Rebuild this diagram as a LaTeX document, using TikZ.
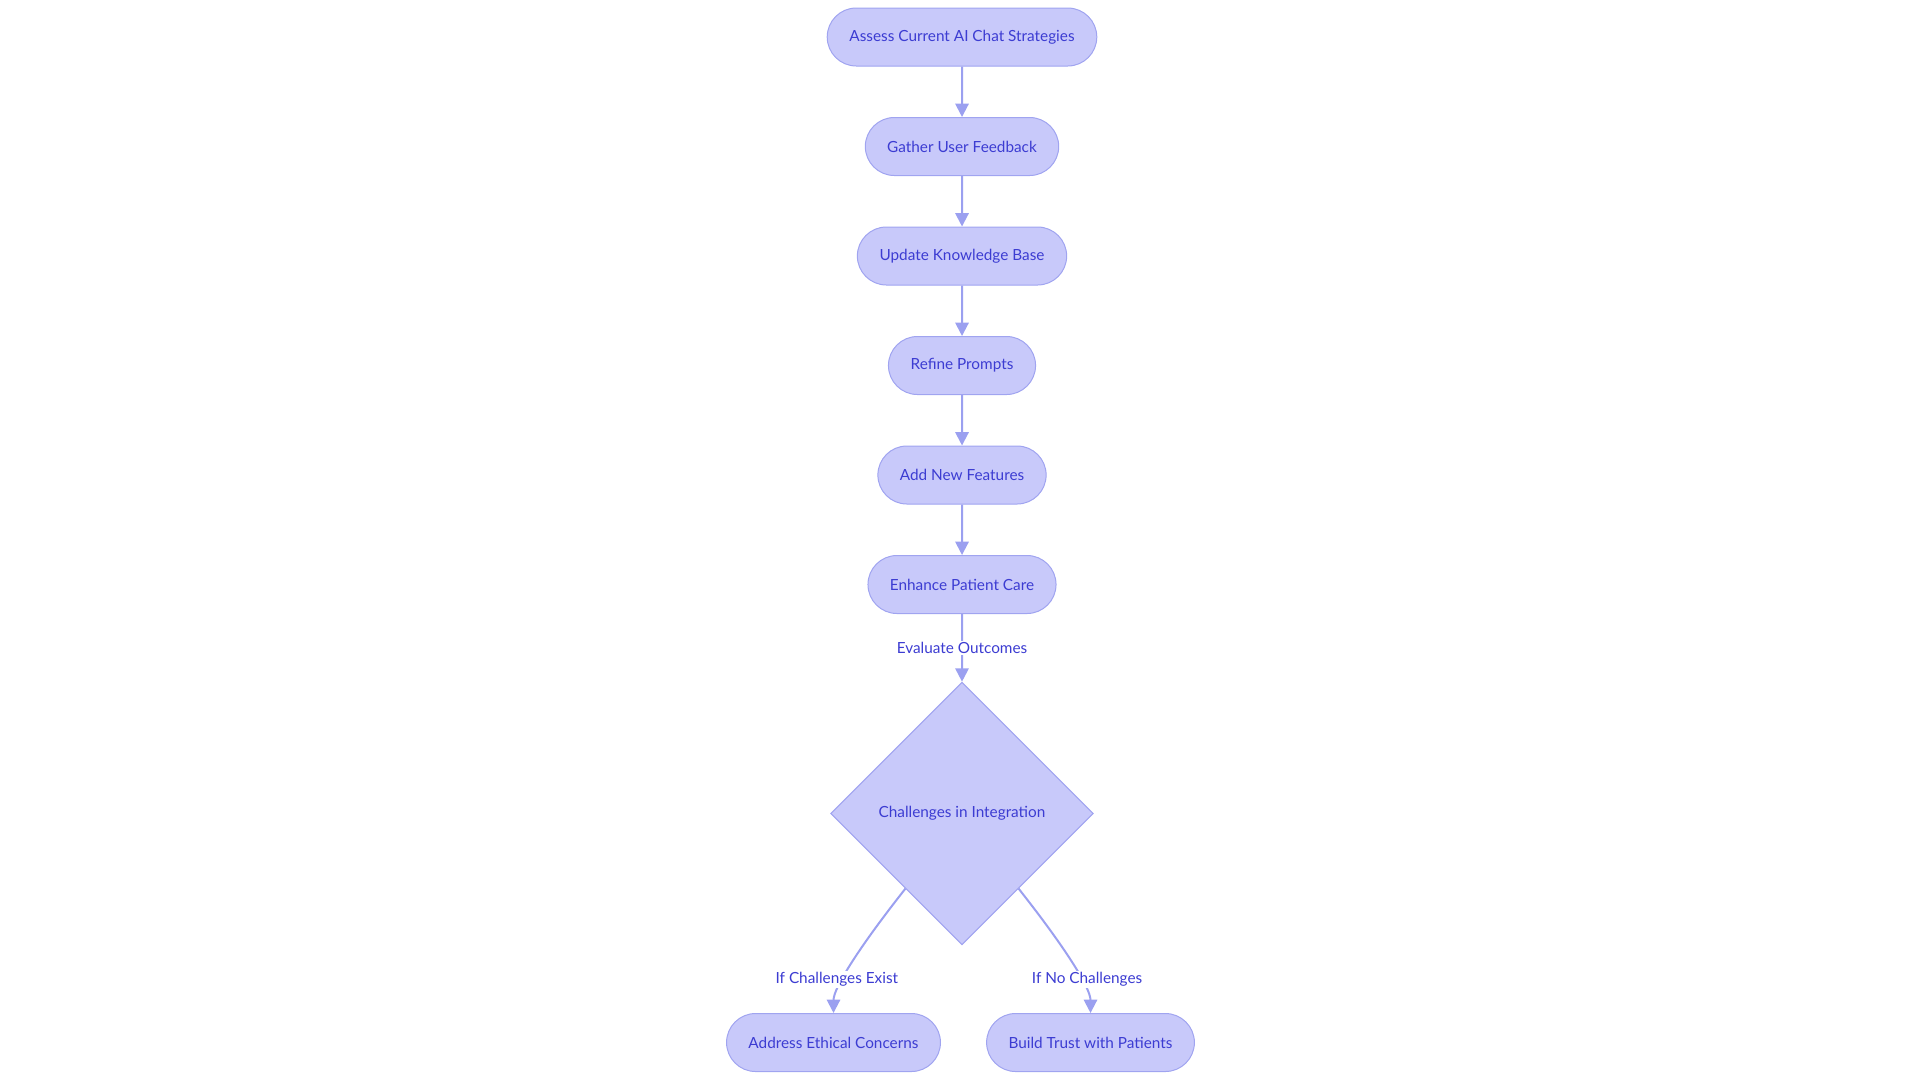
\documentclass[tikz,border=0pt]{standalone}
\usepackage{fontspec}
\setmainfont{Lato}
\usetikzlibrary{shapes.misc,shapes.geometric,arrows.meta}
\definecolor{stepfill}{RGB}{200,201,250}
\definecolor{stepline}{RGB}{160,164,240}
\definecolor{steptext}{RGB}{60,60,210}
\definecolor{flowline}{RGB}{155,160,240}

\begin{document}
\begin{tikzpicture}[x=0.75pt,y=-0.75pt]
    \tikzstyle{stage} = [rounded rectangle, draw=stepline, fill=stepfill, text=steptext, line width=0.75pt, minimum height=43.5pt, inner xsep=16pt, font=\fontsize{11.5}{14}\selectfont]
    \tikzstyle{choice} = [diamond, aspect=1, draw=stepline, fill=stepfill, text=steptext, line width=0.75pt, inner sep=0pt, minimum width=197pt, minimum height=197pt, font=\fontsize{11.5}{14}\selectfont]
    \tikzstyle{flow} = [draw=flowline, line width=1.5pt, -{Triangle[length=10pt,width=10pt]}]
    \tikzstyle{lbl} = [fill=white, text=steptext, inner sep=1pt, font=\fontsize{11.5}{14}\selectfont]

    \useasboundingbox (0,0) rectangle (1920,1083);
    \node[stage] (assess)   at (962,37)    {Assess Current AI Chat Strategies};
    \node[stage] (gather)   at (962,146.5) {Gather User Feedback};
    \node[stage] (update)   at (962,256)   {Update Knowledge Base};
    \node[stage] (refine)   at (962,365.5) {Refine Prompts};
    \node[stage] (features) at (962,475)   {Add New Features};
    \node[stage] (care)     at (962,584.5) {Enhance Patient Care};
    \node[choice] (challenge) at (962,813.5) {Challenges in Integration};
    \node[stage] (ethics)   at (833.5,1042.5) {Address Ethical Concerns};
    \node[stage] (trust)    at (1090.5,1042.5) {Build Trust with Patients};

    \foreach \a/\b in {assess/gather, gather/update, update/refine, refine/features, features/care}
        \draw[flow] (\a) -- (\b);
    \draw[flow] (care) -- node[lbl] {Evaluate Outcomes} (challenge);
    \draw[flow] (challenge.-127) .. controls +(-45,57) and +(0,-55) .. node[lbl,pos=0.64,xshift=-5pt] {If Challenges Exist} (ethics);
    \draw[flow] (challenge.-53) .. controls +(45,57) and +(0,-55) .. node[lbl,pos=0.64,xshift=5pt] {If No Challenges} (trust);
\end{tikzpicture}
\end{document}
